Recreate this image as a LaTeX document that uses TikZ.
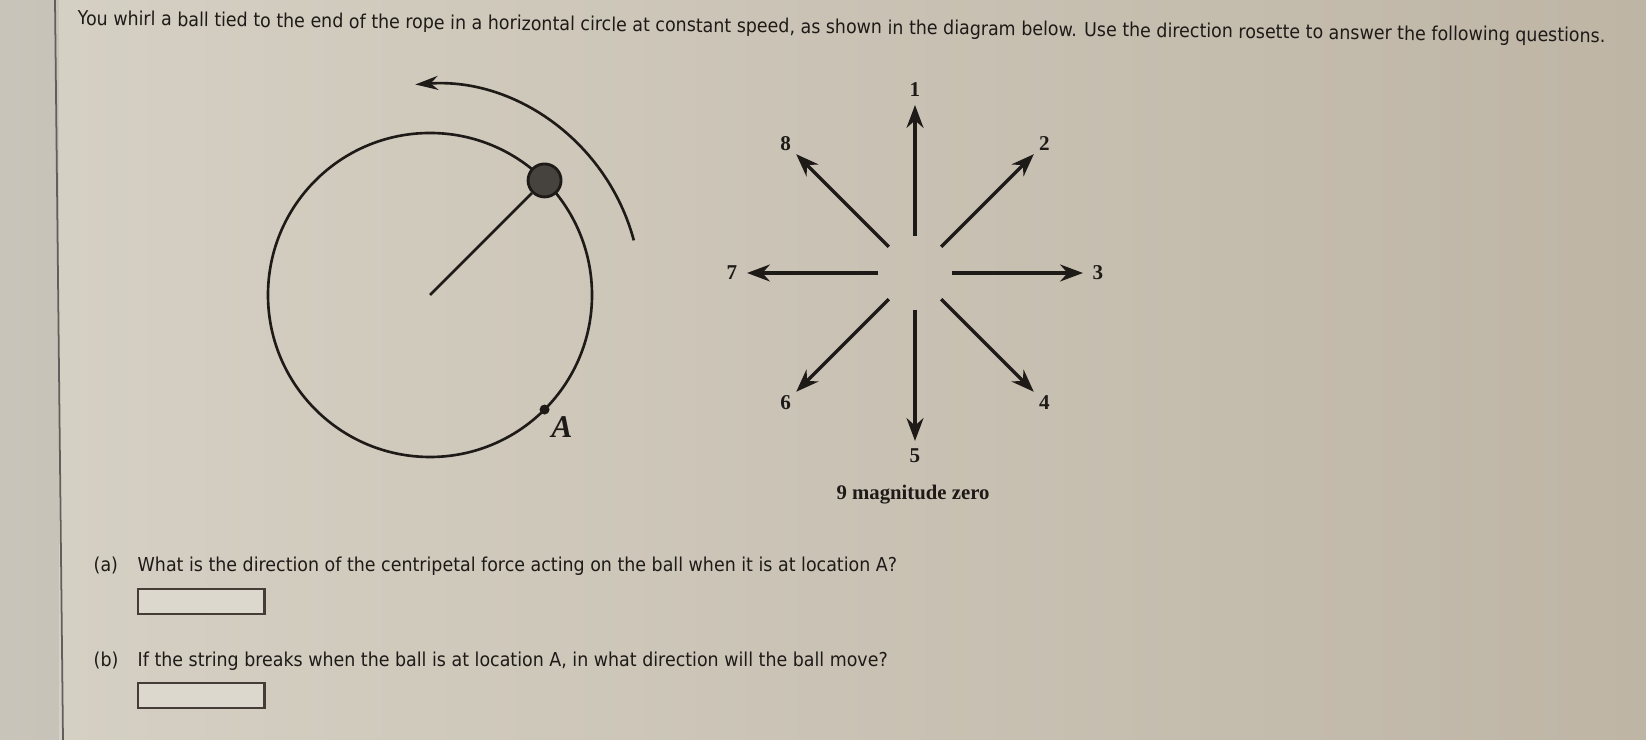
\documentclass[tikz,border=0pt]{standalone}
\usepackage{fontspec}
\setmainfont{DejaVu Sans}
\newfontfamily\rosefont{Liberation Serif}
\usetikzlibrary{arrows.meta,positioning}

\definecolor{paperlight}{RGB}{214,209,197}
\definecolor{paperdark}{RGB}{190,181,165}
\definecolor{ink}{RGB}{30,26,24}
\definecolor{balldark}{RGB}{70,66,62}
\definecolor{boxline}{RGB}{68,60,54}

\newcommand{\squeeze}[1]{\scalebox{0.91}[1]{#1}}

\tikzset{
  qtext/.style={font=\fontsize{5.45}{6.5}\selectfont, text=ink, inner sep=0pt, anchor=base west},
  figline/.style={draw=ink, line width=0.75pt},
  rosearrow/.style={draw=ink, line width=0.95pt, -{Stealth[length=6.5pt,width=4.8pt]}},
  roselabel/.style={font=\rosefont\bfseries\fontsize{6}{7}\selectfont, text=ink, inner sep=0pt},
  answerbox/.style={draw=boxline, line width=0.7pt, fill=paperlight!85!white, minimum width=1.26cm, minimum height=0.25cm, inner sep=0pt, anchor=north west},
}

\begin{document}
\begin{tikzpicture}[x=0.01cm, y=0.01cm]
  \useasboundingbox (0,0) rectangle (1646,740);
  \shade[left color=paperlight, right color=paperdark] (0,0) rectangle (1646,740);
  \fill[black, opacity=0.06] (0,0) rectangle (59,740);
  \draw[ink!70, line width=0.5pt] (55,740) -- (63,0);

  % heading
  \node[qtext, rotate=-0.65] (intro) at (77,715) {\squeeze{You whirl a ball tied to the end of the rope in a horizontal circle at constant speed, as shown in the diagram below. Use the direction rosette to answer the following questions.}};

  % circle with ball
  \coordinate (O) at (430,445);
  \draw[figline] (O) circle[radius=162];
  \node[circle, draw=ink, fill=balldark, line width=0.8pt, minimum size=0.33cm, inner sep=0pt] (ball) at ([shift={(O)}]45:162) {};
  \draw[figline] (O) -- (ball);
  \node[circle, fill=ink, minimum size=0.1cm, inner sep=0pt] (ptA) at ([shift={(O)}]-45:162) {};
  \node[font=\rosefont\bfseries\itshape\fontsize{9}{10}\selectfont, text=ink, inner sep=0pt, below right=0.02cm and 0.02cm of ptA] (labA) {A};
  \coordinate (sweepstart) at ([shift={(O)}]15:211);
  \draw[figline, -{Stealth[length=6.5pt,width=4pt]}] (sweepstart) arc[start angle=15, end angle=94, radius=211];

  % direction rosette
  \coordinate (C) at (915,467);
  \foreach \ang/\lab in {90/1, 45/2, 0/3, -45/4, -90/5, -135/6, 180/7, 135/8} {
    \coordinate (s\lab) at ([shift={(C)}]\ang:37);
    \coordinate (t\lab) at ([shift={(C)}]\ang:168);
    \node[roselabel] (n\lab) at ([shift={(C)}]\ang:183) {\lab};
    \draw[rosearrow] (s\lab) -- (t\lab);
  }
  \node[roselabel, font=\rosefont\bfseries\fontsize{5.9}{7}\selectfont] (zero) at (913,245) {9 magnitude zero};

  % questions
  \node[qtext] (qa) at (93,168) {\squeeze{(a)}};
  \node[qtext] (qatext) at (137,168) {\squeeze{What is the direction of the centripetal force acting on the ball when it is at location A?}};
  \node[answerbox] (boxa) at (137,152) {};
  \node[qtext] (qb) at (93,73) {\squeeze{(b)}};
  \node[qtext] (qbtext) at (137,73) {\squeeze{If the string breaks when the ball is at location A, in what direction will the ball move?}};
  \node[answerbox] (boxb) at (137,58) {};
\end{tikzpicture}
\end{document}
